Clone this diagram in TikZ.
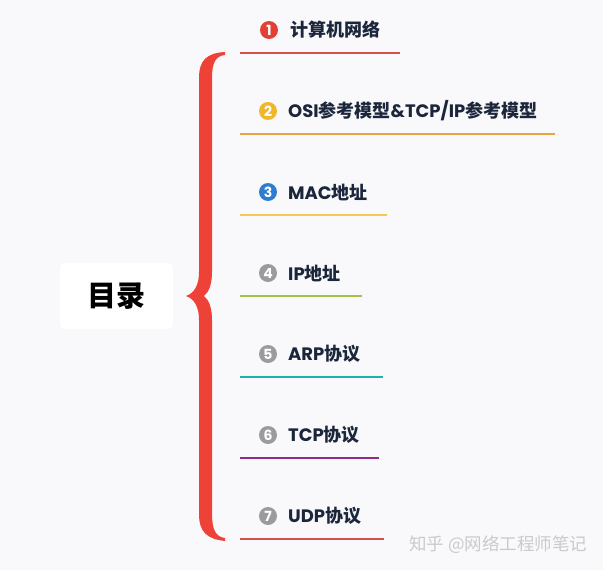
\documentclass[tikz,border=0pt]{standalone}
\usepackage{fontspec}
\setmainfont{Poppins}
\newfontfamily\cjk{Noto Sans CJK SC}
\definecolor{pagebg}{HTML}{F9F8FB}
\definecolor{inkblue}{HTML}{1B263B}
\definecolor{bracered}{HTML}{EE4238}
\definecolor{markgray}{HTML}{9C9A9E}
\definecolor{marktxt}{HTML}{CACACE}
\tikzset{
    itemlabel/.style={anchor=west, inner sep=0pt, text=inkblue, font=\fontsize{18}{20}\selectfont\bfseries},
    itemnum/.style={circle, inner sep=0pt, minimum size=18pt, text=white, font=\fontsize{14}{14}\selectfont\bfseries},
    itemrule/.style={line width=1.6pt}
}
\begin{document}
\begin{tikzpicture}[x=1pt, y=-1pt]
    % background
    \fill[pagebg] (0,0) rectangle (603,570);
    \useasboundingbox (0,0) rectangle (603,570);

    % title box
    \node[fill=white, rounded corners=5pt, minimum width=113pt, minimum height=66pt, inner sep=0pt,
        font=\fontsize{29}{30}\selectfont\cjk\bfseries] (title) at (116.5,296) {\raisebox{-1.5pt}{目录}};

    % brace
    \fill[bracered] (225,52) .. controls (207,53) and (199,60) .. (199,78)
        -- (199,272) .. controls (199,284) and (195,293) .. (186,296)
        .. controls (195,299) and (199,308) .. (199,320)
        -- (199,514) .. controls (199,532) and (207,539) .. (225,541)
        -- (225,538) .. controls (216,537) and (212,530) .. (212,514)
        -- (212,320) .. controls (212,308) and (209,300) .. (204,296)
        .. controls (209,292) and (212,284) .. (212,272)
        -- (212,78) .. controls (212,62) and (216,56) .. (225,55) -- cycle;

    % item 1
    \node[itemnum, fill=bracered!95!black] (num1) at (269,30) {1};
    \node[itemlabel] (item1) at (290,30) {\cjk 计算机网络};
    \coordinate (a1) at (240,53);
    \coordinate (b1) at (400,53);
    \draw[itemrule, color={rgb,255:red,214;green,80;blue,78}] (a1) -- (b1);

    % item 2
    \node[itemnum, fill={rgb,255:red,240;green,184;blue,40}] (num2) at (268,111) {2};
    \node[itemlabel] (item2) at (288,111) {OSI{\cjk 参考模型}\&TCP/IP{\cjk 参考模型}};
    \coordinate (a2) at (240,134);
    \coordinate (b2) at (555,134);
    \draw[itemrule, color={rgb,255:red,232;green,165;blue,66}] (a2) -- (b2);

    % item 3
    \node[itemnum, fill={rgb,255:red,46;green,125;blue,209}] (num3) at (268,192) {3};
    \node[itemlabel] (item3) at (288,192) {MAC{\cjk 地址}};
    \coordinate (a3) at (240,215);
    \coordinate (b3) at (387,215);
    \draw[itemrule, color={rgb,255:red,246;green,200;blue,84}] (a3) -- (b3);

    % item 4
    \node[itemnum, fill=markgray] (num4) at (268,273) {4};
    \node[itemlabel] (item4) at (288,273) {IP{\cjk 地址}};
    \coordinate (a4) at (240,296);
    \coordinate (b4) at (362,296);
    \draw[itemrule, color={rgb,255:red,164;green,194;blue,74}] (a4) -- (b4);

    % item 5
    \node[itemnum, fill=markgray] (num5) at (268,354) {5};
    \node[itemlabel] (item5) at (288,354) {ARP{\cjk 协议}};
    \coordinate (a5) at (240,377);
    \coordinate (b5) at (383,377);
    \draw[itemrule, color={rgb,255:red,32;green,178;blue,170}] (a5) -- (b5);

    % item 6
    \node[itemnum, fill=markgray] (num6) at (268,435) {6};
    \node[itemlabel] (item6) at (288,435) {TCP{\cjk 协议}};
    \coordinate (a6) at (240,458);
    \coordinate (b6) at (379,458);
    \draw[itemrule, color={rgb,255:red,142;green,44;blue,142}] (a6) -- (b6);

    % item 7
    \node[itemnum, fill=markgray] (num7) at (268,516) {7};
    \node[itemlabel] (item7) at (288,516) {UDP{\cjk 协议}};
    \coordinate (a7) at (240,539);
    \coordinate (b7) at (384,539);
    \draw[itemrule, color={rgb,255:red,208;green,80;blue,76}] (a7) -- (b7);

    % watermark
    \node[anchor=west, inner sep=0pt, text=marktxt, font=\fontsize{17.5}{20}\selectfont\cjk] (mark) at (409,545) {知乎 @网络工程师笔记};
\end{tikzpicture}
\end{document}
